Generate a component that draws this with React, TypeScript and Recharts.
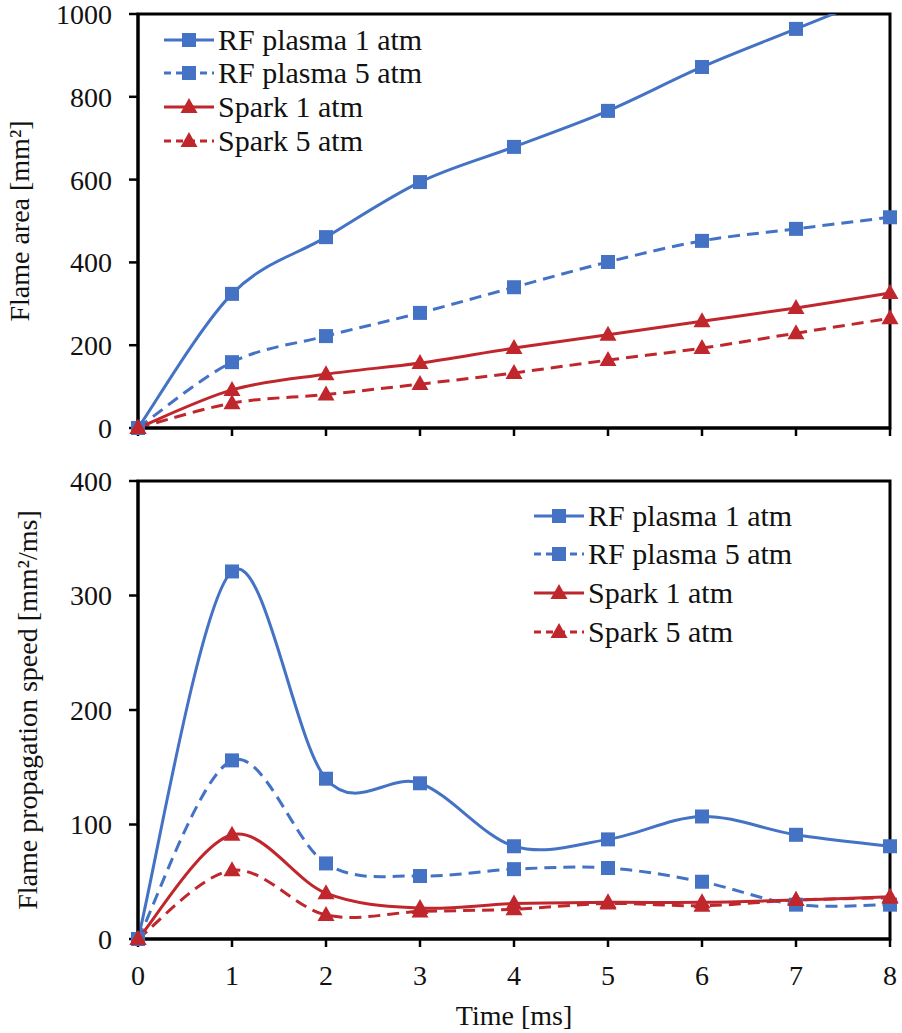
import React from "react";
import { LineChart, Line, XAxis, YAxis, ReferenceArea } from "recharts";

const time = [0, 1, 2, 3, 4, 5, 6, 7, 8];

// Flame area [mm²]
const areaRf1 = [0, 324, 461, 594, 679, 766, 872, 964, 1055];
const areaRf5 = [0, 159, 222, 278, 340, 401, 452, 481, 509];
const areaSp1 = [0, 92, 130, 157, 193, 225, 258, 290, 326];
const areaSp5 = [0, 60, 81, 106, 133, 164, 193, 229, 265];

// Flame propagation speed [mm²/ms]
const speedRf1 = [0, 321, 140, 136, 81, 87, 107, 91, 81];
const speedRf5 = [0, 156, 66, 55, 61, 62, 50, 30, 30];
const speedSp1 = [0, 91, 40, 27, 31, 32, 32, 34, 37];
const speedSp5 = [0, 60, 21, 24, 26, 31, 29, 34, 36];

const areaTicks = [0, 200, 400, 600, 800, 1000];
const speedTicks = [0, 100, 200, 300, 400];
const seriesNames = ["RF plasma 1 atm", "RF plasma 5 atm", "Spark 1 atm", "Spark 5 atm"];

const BLUE = "#4472C4";
const RED = "#C0272D";
const DASH = "12 7";
const FONT = "'Liberation Serif', 'Times New Roman', serif";

const areaData = time.map((t, i) => ({
  t,
  rf1: areaRf1[i],
  rf1m: areaRf1[i] <= 1000 ? areaRf1[i] : null,
  rf5: areaRf5[i],
  sp1: areaSp1[i],
  sp5: areaSp5[i],
}));

const speedData = time.map((t, i) => ({
  t,
  rf1: speedRf1[i],
  rf5: speedRf5[i],
  sp1: speedSp1[i],
  sp5: speedSp5[i],
}));

// excel-like smoothing (catmull-rom through the points)
const smooth: any = (context: any) => {
  let pts: number[][] = [];
  return {
    areaStart() {},
    areaEnd() {},
    lineStart() {
      pts = [];
    },
    point(x: number, y: number) {
      pts.push([+x, +y]);
    },
    lineEnd() {
      const n = pts.length;
      if (!n) return;
      context.moveTo(pts[0][0], pts[0][1]);
      for (let i = 0; i < n - 1; i++) {
        const p0 = pts[i - 1] || pts[i];
        const p1 = pts[i];
        const p2 = pts[i + 1];
        const p3 = pts[i + 2] || pts[i + 1];
        context.bezierCurveTo(
          p1[0] + (p2[0] - p0[0]) / 6,
          p1[1] + (p2[1] - p0[1]) / 6,
          p2[0] - (p3[0] - p1[0]) / 6,
          p2[1] - (p3[1] - p1[1]) / 6,
          p2[0],
          p2[1]
        );
      }
    },
  };
};

const squareDot = (color: string) => (p: any) => {
  if (p.cx == null || p.cy == null || p.value == null) return <g key={p.index} />;
  return <rect key={p.index} x={p.cx - 7} y={p.cy - 7} width={14} height={14} fill={color} />;
};

const triangleDot = (color: string) => (p: any) => {
  if (p.cx == null || p.cy == null || p.value == null) return <g key={p.index} />;
  const { cx, cy } = p;
  return <polygon key={p.index} points={`${cx},${cy - 9} ${cx + 8.5},${cy + 6} ${cx - 8.5},${cy + 6}`} fill={color} />;
};

function LegendBox({ left, rows }: { left: number; rows: number[] }) {
  const items = [
    { color: BLUE, dash: undefined, shape: "square" },
    { color: BLUE, dash: "7 5", shape: "square" },
    { color: RED, dash: undefined, shape: "triangle" },
    { color: RED, dash: "7 5", shape: "triangle" },
  ];
  return (
    <>
      {items.map((it, i) => (
        <div
          key={i}
          style={{
            position: "absolute",
            left,
            top: rows[i] - 18,
            height: 36,
            display: "flex",
            alignItems: "center",
            whiteSpace: "nowrap",
            fontFamily: FONT,
            fontSize: 30,
            color: "#111",
          }}
        >
          <svg width={52} height={20} style={{ marginRight: 3 }}>
            <line x1={1} y1={10} x2={51} y2={10} stroke={it.color} strokeWidth={3} strokeDasharray={it.dash} />
            {it.shape === "square" ? (
              <rect x={19} y={3} width={14} height={14} fill={it.color} />
            ) : (
              <polygon points="26,1 34.5,16 17.5,16" fill={it.color} />
            )}
          </svg>
          <span>{seriesNames[i]}</span>
        </div>
      ))}
    </>
  );
}

const tickStyle = { fontFamily: FONT, fontSize: 28, fill: "#111" };
const axisLine = { stroke: "#000", strokeWidth: 3 };
const tickLine = { stroke: "#000", strokeWidth: 2.5 };

function yLabel(text: string, x: number) {
  return (props: any) => {
    const vb = props.viewBox || {};
    const cy = (vb.y || 0) + (vb.height || 0) / 2;
    return (
      <text
        x={x}
        y={cy}
        transform={`rotate(-90 ${x} ${cy})`}
        textAnchor="middle"
        dominantBaseline="central"
        style={{ fontFamily: FONT, fontSize: 28, fill: "#111" }}
      >
        {text}
      </text>
    );
  };
}

export default function App() {
  return (
    <div style={{ position: "absolute", left: 0, top: 0, width: 902, height: 1033, background: "#fff" }}>
      <div style={{ position: "absolute", left: 0, top: 0 }}>
        <LineChart width={902} height={440} data={areaData} margin={{ top: 14, right: 12, left: 0, bottom: 0 }}>
          <XAxis
            dataKey="t"
            type="number"
            domain={[0, 8]}
            ticks={time}
            height={12}
            tickFormatter={() => ""}
            axisLine={axisLine}
            tickLine={tickLine}
            tickSize={8}
          />
          <YAxis
            yAxisId="m"
            type="number"
            domain={[0, 1000]}
            ticks={areaTicks}
            interval={0}
            width={138}
            tick={tickStyle}
            axisLine={axisLine}
            tickLine={tickLine}
            tickSize={9}
            tickMargin={17}
            label={{ content: yLabel("Flame area [mm²]", 19) }}
          />
          <YAxis yAxisId="clip" type="number" domain={[0, 1000]} allowDataOverflow hide width={0} />
          <ReferenceArea yAxisId="m" x1={0} x2={8} y1={0} y2={1000} fill="none" stroke="#000" strokeWidth={3} />
          <Line yAxisId="clip" dataKey="rf1" type={smooth} stroke={BLUE} strokeWidth={3} dot={false} activeDot={false} isAnimationActive={false} />
          <Line yAxisId="m" dataKey="rf1m" type={smooth} stroke="none" dot={squareDot(BLUE)} activeDot={false} isAnimationActive={false} />
          <Line yAxisId="m" dataKey="rf5" type={smooth} stroke={BLUE} strokeWidth={3} strokeDasharray={DASH} dot={squareDot(BLUE)} activeDot={false} isAnimationActive={false} />
          <Line yAxisId="m" dataKey="sp1" type={smooth} stroke={RED} strokeWidth={3} dot={triangleDot(RED)} activeDot={false} isAnimationActive={false} />
          <Line yAxisId="m" dataKey="sp5" type={smooth} stroke={RED} strokeWidth={3} strokeDasharray={DASH} dot={triangleDot(RED)} activeDot={false} isAnimationActive={false} />
        </LineChart>
      </div>
      <div style={{ position: "absolute", left: 0, top: 440 }}>
        <LineChart width={902} height={593} data={speedData} margin={{ top: 41, right: 12, left: 0, bottom: 0 }}>
          <XAxis
            dataKey="t"
            type="number"
            domain={[0, 8]}
            ticks={time}
            interval={0}
            height={94}
            tick={tickStyle}
            axisLine={axisLine}
            tickLine={tickLine}
            tickSize={8}
            tickMargin={18}
            label={{ value: "Time [ms]", position: "insideBottom", offset: 8, style: { fontFamily: FONT, fontSize: 28, fill: "#111" } }}
          />
          <YAxis
            type="number"
            domain={[0, 400]}
            ticks={speedTicks}
            interval={0}
            width={138}
            tick={tickStyle}
            axisLine={axisLine}
            tickLine={tickLine}
            tickSize={9}
            tickMargin={17}
            label={{ content: yLabel("Flame propagation speed [mm²/ms]", 27) }}
          />
          <ReferenceArea x1={0} x2={8} y1={0} y2={400} fill="none" stroke="#000" strokeWidth={3} />
          <Line dataKey="rf1" type={smooth} stroke={BLUE} strokeWidth={3} dot={squareDot(BLUE)} activeDot={false} isAnimationActive={false} />
          <Line dataKey="rf5" type={smooth} stroke={BLUE} strokeWidth={3} strokeDasharray={DASH} dot={squareDot(BLUE)} activeDot={false} isAnimationActive={false} />
          <Line dataKey="sp1" type={smooth} stroke={RED} strokeWidth={3} dot={triangleDot(RED)} activeDot={false} isAnimationActive={false} />
          <Line dataKey="sp5" type={smooth} stroke={RED} strokeWidth={3} strokeDasharray={DASH} dot={triangleDot(RED)} activeDot={false} isAnimationActive={false} />
        </LineChart>
      </div>
      <LegendBox left={163} rows={[40, 73, 107, 141]} />
      <LegendBox left={533} rows={[516, 554, 593, 632]} />
    </div>
  );
}
